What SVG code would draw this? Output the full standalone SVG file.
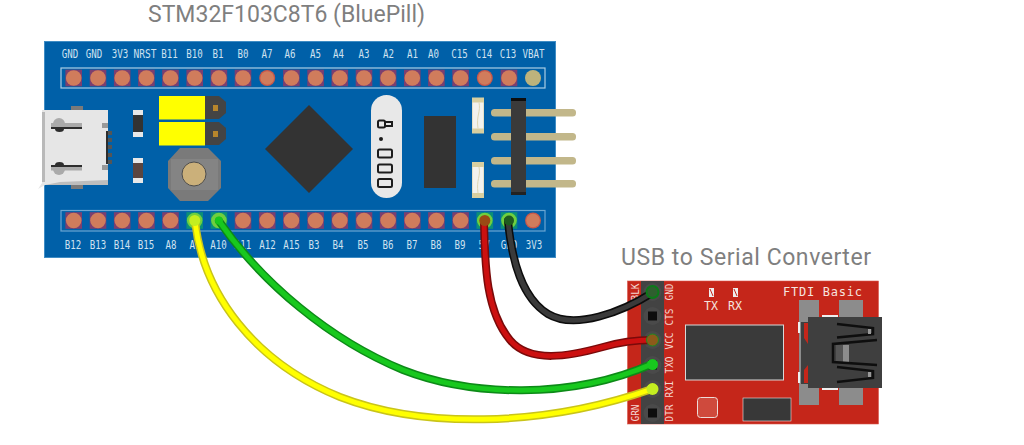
<svg xmlns="http://www.w3.org/2000/svg" width="1024" height="445" viewBox="0 0 1024 445">
<style>
.title{font-family:Roboto,"Noto Sans",sans-serif;font-size:23px;fill:#7f7f7f}
.lb{font-family:"DejaVu Sans Mono","Liberation Mono",monospace;font-size:11.5px;fill:#cfe2f0;text-anchor:middle}
.fl{font-family:"DejaVu Sans Mono","Liberation Mono",monospace;font-size:10.5px;fill:#f3d6d0;text-anchor:middle}
.fb{font-family:"DejaVu Sans Mono","Liberation Mono",monospace;font-size:12px;fill:#f5e3df;text-anchor:middle}
.wo{fill:none;stroke-width:8;stroke-linecap:round}
.wi{fill:none;stroke-width:5;stroke-linecap:round}
.mark{fill:none;stroke:#1c1c1c;stroke-width:2}
.latch{fill:none;stroke:#0e0e0e;stroke-width:2.500}
.dark{fill:#3a3a3a}
.tan{fill:#c2b78a}
.grey{fill:#8c8c8c}
</style>
<defs>
<g id="pin"><rect x="-8.300" y="-8.300" width="16.600" height="16.600" fill="#7b3f70"/><circle r="7.800" fill="#d07c5c"/></g>
<g id="pinr"><circle r="8" fill="#c8574a"/><circle r="6.800" fill="#d07c5c"/></g>
<g id="ping"><rect x="-8.300" y="-8.300" width="16.600" height="16.600" fill="#0b8f78"/><circle r="7.800" fill="#6fcf3f"/></g>
<g id="hole"><circle r="9" fill="#4a4a4a"/><rect x="-4.500" y="-4.500" width="9" height="9" fill="#0d0d0d"/></g>
<g id="hpin"><rect x="0" y="0" width="85" height="7.500" rx="3.500" class="tan"/></g>
<g id="smd"><rect x="0" y="0" width="12" height="36" fill="#d8cfa0"/><rect x="0.500" y="5" width="11" height="26" fill="#f2f2ee"/><path d="M7 5C9 14 4 18 6 31" fill="none" stroke="#ddd6b4"/></g>
<g id="cap"><rect x="0" y="0" width="46" height="23.500" fill="#ffff00"/><path d="M46 0h14l7 6v11l-7 6H46z" fill="#444"/><rect x="54" y="9" width="5" height="6" fill="#b8862c"/></g>
</defs>

<g id="stm32-board">
<text class="title" x="148" y="22" textLength="277">STM32F103C8T6 (BluePill)</text>
<rect x="44.500" y="41.500" width="511" height="216" fill="#0060a8" stroke="#3f8cc4"/>
<rect x="61" y="68" width="484" height="20" fill="none" stroke="#a9cde4" stroke-width="1.200"/>
<rect x="61" y="210.500" width="484" height="20.500" fill="none" stroke="#6aa6d2" stroke-width="1.200"/>
<g>
<use href="#pin" x="73.700" y="78"/><use href="#pin" x="98" y="78"/><use href="#pin" x="122.200" y="78"/><use href="#pin" x="146.400" y="78"/><use href="#pin" x="170.500" y="78"/><use href="#pin" x="194.700" y="78"/><use href="#pin" x="218.900" y="78"/><use href="#pin" x="243" y="78"/><use href="#pinr" x="267.200" y="78"/><use href="#pin" x="291.400" y="78"/><use href="#pin" x="315.600" y="78"/><use href="#pin" x="339.800" y="78"/><use href="#pin" x="364" y="78"/><use href="#pin" x="388.100" y="78"/><use href="#pin" x="412.300" y="78"/><use href="#pin" x="436.400" y="78"/><use href="#pin" x="460.600" y="78"/><use href="#pinr" x="484.800" y="78"/><use href="#pin" x="509" y="78"/><circle cx="533" cy="78" r="8" fill="#bdb37c"/>
<use href="#pin" x="73.700" y="220.500"/><use href="#pin" x="98" y="220.500"/><use href="#pin" x="122.200" y="220.500"/><use href="#pin" x="146.400" y="220.500"/><use href="#pin" x="170.500" y="220.500"/><use href="#ping" x="194.700" y="220.500"/><use href="#ping" x="218.900" y="220.500"/><use href="#pin" x="243" y="220.500"/><use href="#pin" x="267.200" y="220.500"/><use href="#pin" x="291.400" y="220.500"/><use href="#pin" x="315.600" y="220.500"/><use href="#pin" x="339.800" y="220.500"/><use href="#pin" x="364" y="220.500"/><use href="#pin" x="388.100" y="220.500"/><use href="#pin" x="412.300" y="220.500"/><use href="#pin" x="436.400" y="220.500"/><use href="#pin" x="460.600" y="220.500"/><use href="#ping" x="484.800" y="220.500"/><use href="#ping" x="509" y="220.500"/><use href="#pinr" x="533" y="220.500"/>
</g>
<g class="lb">
<text x="70" y="58" textLength="16.500" lengthAdjust="spacingAndGlyphs">GND</text><text x="94" y="58" textLength="16.500" lengthAdjust="spacingAndGlyphs">GND</text><text x="120" y="58" textLength="16.500" lengthAdjust="spacingAndGlyphs">3V3</text><text x="145" y="58" textLength="23" lengthAdjust="spacingAndGlyphs">NRST</text><text x="169.500" y="58" textLength="16.500" lengthAdjust="spacingAndGlyphs">B11</text><text x="194.500" y="58" textLength="16.500" lengthAdjust="spacingAndGlyphs">B10</text><text x="218" y="58" textLength="11" lengthAdjust="spacingAndGlyphs">B1</text><text x="243" y="58" textLength="11" lengthAdjust="spacingAndGlyphs">B0</text><text x="267" y="58" textLength="11" lengthAdjust="spacingAndGlyphs">A7</text><text x="290" y="58" textLength="11" lengthAdjust="spacingAndGlyphs">A6</text><text x="315.500" y="58" textLength="11" lengthAdjust="spacingAndGlyphs">A5</text><text x="338.500" y="58" textLength="11" lengthAdjust="spacingAndGlyphs">A4</text><text x="364" y="58" textLength="11" lengthAdjust="spacingAndGlyphs">A3</text><text x="388.500" y="58" textLength="11" lengthAdjust="spacingAndGlyphs">A2</text><text x="412.500" y="58" textLength="11" lengthAdjust="spacingAndGlyphs">A1</text><text x="433.500" y="58" textLength="11" lengthAdjust="spacingAndGlyphs">A0</text><text x="459.500" y="58" textLength="16.500" lengthAdjust="spacingAndGlyphs">C15</text><text x="484" y="58" textLength="16.500" lengthAdjust="spacingAndGlyphs">C14</text><text x="508" y="58" textLength="16.500" lengthAdjust="spacingAndGlyphs">C13</text><text x="533.500" y="58" textLength="22" lengthAdjust="spacingAndGlyphs">VBAT</text>
<text x="73" y="248.500" textLength="16.500" lengthAdjust="spacingAndGlyphs">B12</text><text x="98" y="248.500" textLength="16.500" lengthAdjust="spacingAndGlyphs">B13</text><text x="122" y="248.500" textLength="16.500" lengthAdjust="spacingAndGlyphs">B14</text><text x="146" y="248.500" textLength="16.500" lengthAdjust="spacingAndGlyphs">B15</text><text x="171" y="248.500" textLength="11" lengthAdjust="spacingAndGlyphs">A8</text><text x="195" y="248.500" textLength="11" lengthAdjust="spacingAndGlyphs">A9</text><text x="218.500" y="248.500" textLength="16.500" lengthAdjust="spacingAndGlyphs">A10</text><text x="243" y="248.500" textLength="16.500" lengthAdjust="spacingAndGlyphs">A11</text><text x="267.500" y="248.500" textLength="16.500" lengthAdjust="spacingAndGlyphs">A12</text><text x="291.500" y="248.500" textLength="16.500" lengthAdjust="spacingAndGlyphs">A15</text><text x="314" y="248.500" textLength="11" lengthAdjust="spacingAndGlyphs">B3</text><text x="338" y="248.500" textLength="11" lengthAdjust="spacingAndGlyphs">B4</text><text x="363" y="248.500" textLength="11" lengthAdjust="spacingAndGlyphs">B5</text><text x="388" y="248.500" textLength="11" lengthAdjust="spacingAndGlyphs">B6</text><text x="412" y="248.500" textLength="11" lengthAdjust="spacingAndGlyphs">B7</text><text x="436" y="248.500" textLength="11" lengthAdjust="spacingAndGlyphs">B8</text><text x="460" y="248.500" textLength="11" lengthAdjust="spacingAndGlyphs">B9</text><text x="484" y="248.500" textLength="11" lengthAdjust="spacingAndGlyphs">5V</text><text x="509" y="248.500" textLength="16.500" lengthAdjust="spacingAndGlyphs">GND</text><text x="534" y="248.500" textLength="16.500" lengthAdjust="spacingAndGlyphs">3V3</text>
</g>
<!-- USB -->
<rect x="71" y="106" width="12" height="5" fill="#7a7a7a"/>
<rect x="71" y="184" width="12" height="5" fill="#7a7a7a"/>
<path d="M108 131h4v4h-4zM108 138h4v4h-4zM108 145h4v4h-4zM108 153h4v4h-4zM108 160h4v4h-4z" fill="#555"/>
<path d="M42 110H108V185L45 185L38 189L42 183V110L37 106Z" fill="#e6e6e6"/>
<rect x="42" y="112" width="3" height="70" fill="#b9b9b9"/>
<path d="M60 182L108 180V185H45Z" fill="#bdbdbd"/>
<rect x="51" y="123" width="31" height="6" fill="#aaa"/><circle cx="59" cy="124" r="6" fill="#aaa"/>
<rect x="51" y="127" width="31" height="2" fill="#2d2d2d"/><path d="M55 129a4.500 3 0 0 0 9 0z" fill="#2d2d2d"/>
<rect x="51" y="165" width="31" height="5.500" fill="#aaa"/><circle cx="59" cy="169" r="6" fill="#aaa"/>
<rect x="51" y="165" width="31" height="2" fill="#2d2d2d"/><path d="M55 165a4.500 3 0 0 1 9 0z" fill="#2d2d2d"/>
<rect x="102" y="123" width="6" height="5" fill="#999"/><rect x="102" y="165" width="6" height="5" fill="#999"/>
<rect x="106" y="131" width="2" height="33" fill="#2d2d2d"/>
<g id="resistors">
<rect x="133" y="110" width="10" height="27" fill="#333"/><rect x="133" y="110" width="10" height="5" fill="#e8e8e8"/><rect x="133" y="132" width="10" height="5" fill="#e8e8e8"/>
<rect x="133" y="158" width="10" height="25" fill="#5a4540"/><rect x="133" y="158" width="10" height="5" fill="#e8e8e8"/><rect x="133" y="178" width="10" height="5" fill="#e8e8e8"/>
</g>
<use href="#cap" x="159" y="96"/>
<use href="#cap" x="159" y="122"/>
<path d="M180 148H208L221 161V188L208 201H180L168 188V161Z" fill="#7a7a7a"/>
<path d="M171 159H218V190H171Z" fill="#8a8a8a" opacity=".6"/>
<circle cx="194" cy="174" r="12" fill="#cbb07a" stroke="#4d4d4d" stroke-width="1"/>
<path d="M309 105L353 149L309 193L265 149Z" fill="#333"/>
<rect x="371" y="95" width="31" height="103" rx="15.500" fill="#e8e8e8"/>
<rect x="378" y="120.500" width="7" height="7" rx="1.500" class="mark"/><rect x="385" y="122" width="7" height="4" class="mark"/>
<circle cx="381" cy="139" r="2" fill="#1c1c1c"/>
<rect x="378" y="149.500" width="14" height="8" rx="1.500" class="mark"/>
<rect x="378" y="164.500" width="14" height="8" rx="1.500" class="mark"/>
<rect x="378" y="179" width="14" height="8" rx="1.500" class="mark"/>
<rect x="424" y="116" width="32" height="72" fill="#333"/>
<use href="#smd" x="472" y="97.500"/>
<use href="#smd" x="472" y="162"/>
<use href="#hpin" x="491" y="109"/>
<use href="#hpin" x="491" y="133"/>
<use href="#hpin" x="491" y="157"/>
<use href="#hpin" x="491" y="180"/>
<rect x="511" y="98" width="15" height="97" class="dark"/>
<rect x="511" y="98" width="15" height="3" fill="#0d0d0d"/>
<rect x="511" y="192" width="15" height="3" fill="#222"/>
</g>

<g id="ftdi-board">
<text class="title" x="621" y="264.500" textLength="250">USB to Serial Converter</text>
<rect x="627.500" y="281" width="251" height="143" fill="#c5261a" stroke="#d9574c" stroke-width=".6"/>
<rect x="641" y="281" width="23" height="143" fill="#434343"/>
<use href="#hole" x="652.500" y="292"/><use href="#hole" x="652.500" y="316"/><use href="#hole" x="652.500" y="340"/><use href="#hole" x="652.500" y="365"/><use href="#hole" x="652.500" y="389"/><use href="#hole" x="652.500" y="413"/>
<g class="fl">
<text transform="translate(672.500,292) rotate(-90)" textLength="17" lengthAdjust="spacingAndGlyphs">GND</text>
<text transform="translate(672.500,317) rotate(-90)" textLength="17" lengthAdjust="spacingAndGlyphs">CTS</text>
<text transform="translate(672.500,341) rotate(-90)" textLength="17" lengthAdjust="spacingAndGlyphs">VCC</text>
<text transform="translate(672.500,365) rotate(-90)" textLength="17" lengthAdjust="spacingAndGlyphs">TXO</text>
<text transform="translate(672.500,389) rotate(-90)" textLength="17" lengthAdjust="spacingAndGlyphs">RXI</text>
<text transform="translate(672.500,413) rotate(-90)" textLength="17" lengthAdjust="spacingAndGlyphs">DTR</text>
<text transform="translate(639,292) rotate(-90)" textLength="17" lengthAdjust="spacingAndGlyphs">BLK</text>
<text transform="translate(639,413) rotate(-90)" textLength="17" lengthAdjust="spacingAndGlyphs">GRN</text>
</g>
<rect x="709" y="288" width="5" height="9" fill="#eeeeee"/><path d="M710 289L713 296" stroke="#c5261a"/>
<rect x="733" y="288" width="5" height="9" fill="#eeeeee"/><path d="M734 289L737 296" stroke="#c5261a"/>
<text class="fb" x="711" y="310" textLength="14" lengthAdjust="spacingAndGlyphs">TX</text>
<text class="fb" x="735" y="310" textLength="14" lengthAdjust="spacingAndGlyphs">RX</text>
<text class="fb" x="822.500" y="296" textLength="79">FTDI Basic</text>
<rect x="685.500" y="325" width="98" height="55" fill="#3a3a3a" stroke="#d8d8d8"/>
<rect x="799" y="300" width="20" height="105" class="grey"/>
<rect x="839" y="300" width="24" height="105" class="grey"/>
<rect x="798" y="322" width="2" height="11" fill="#eee"/><rect x="798" y="372" width="2" height="11" fill="#eee"/>
<rect x="822" y="315" width="16" height="2" fill="#eee"/><rect x="822" y="388" width="16" height="2" fill="#eee"/>
<rect x="801" y="322" width="7" height="62" fill="#3f3f3f"/>
<path d="M804 323H808V344L804 338ZM804 383H808V365L804 370Z" fill="#c5261a"/>
<rect x="808" y="317" width="74" height="71" fill="#3f3f3f"/>
<path d="M837 324L873 328V334L837 337.500" class="latch"/>
<path d="M837 367L873 371V378L837 382" class="latch"/>
<rect x="868" y="329" width="3" height="5" fill="#999"/><rect x="868" y="372" width="3" height="5" fill="#999"/>
<rect x="836" y="345" width="7" height="17" fill="#555"/>
<rect x="843" y="345" width="6" height="17" fill="#8c8c8c"/>
<path d="M877 340L833 344V362L877 365" fill="none" stroke="#0e0e0e" stroke-width="2.500"/>
<rect x="697.500" y="397.500" width="20" height="20" rx="3" fill="#cf4a3d" stroke="#eedbd8"/>
<rect x="743" y="398" width="48" height="23" fill="#383838" stroke="#e8e8e8" stroke-width=".6"/>
</g>

<g id="connectors">
<path class="wo" stroke="#c9c41a" d="M195 221C203 294 254 362 340 397C420 428 540 428 652 389"/>
<path class="wi" stroke="#ffff00" d="M195 221C203 294 254 362 340 397C420 428 540 428 652 389"/>
<path class="wo" stroke="#0d8a18" d="M219 221C262 283 330 340 403 370C470 396 570 400 652 364"/>
<path class="wi" stroke="#18c81e" d="M219 221C262 283 330 340 403 370C470 396 570 400 652 364"/>
<path class="wo" stroke="#7a0a0a" d="M484 221C485 262 485 310 510 340C530 364 570 356 603 347C620 342 636 340 652 340"/>
<path class="wi" stroke="#cc1010" d="M484 221C485 262 485 310 510 340C530 364 570 356 603 347C620 342 636 340 652 340"/>
<path class="wo" stroke="#0c0c0c" d="M508 221C512 262 522 298 548 314C575 330 622 312 652 293"/>
<path class="wi" stroke="#3a3a3a" d="M508 221C512 262 522 298 548 314C575 330 622 312 652 293"/>
<circle cx="194.700" cy="220.500" r="5.500" fill="#c4ee20"/>
<circle cx="652.500" cy="389" r="6" fill="#c4ee20"/>
<circle cx="218.900" cy="220.500" r="4" fill="#18c81e"/>
<circle cx="652.500" cy="364.500" r="5.500" fill="#18c81e"/>
<circle cx="484.800" cy="220.500" r="5.500" fill="#9a4a14"/>
<circle cx="509" cy="220.500" r="5" fill="#1f5a1f"/>
<circle cx="652.500" cy="340" r="6" fill="#8c5a1a" stroke="#1f8a1f"/>
<circle cx="652.500" cy="292" r="6" fill="#2f5f2f" stroke="#0c7a18" stroke-width="2"/>
</g>
</svg>
